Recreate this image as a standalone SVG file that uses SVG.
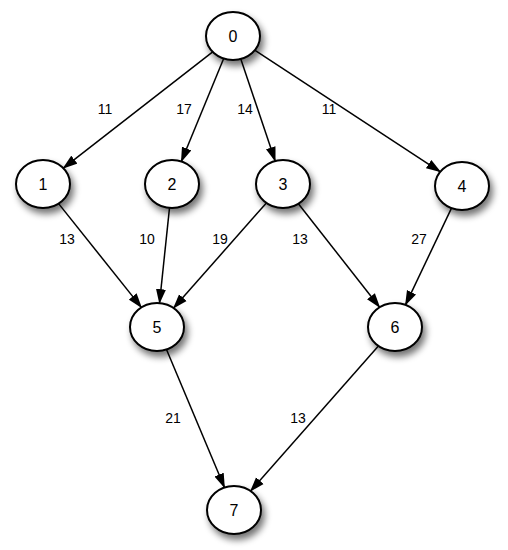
<svg xmlns="http://www.w3.org/2000/svg" width="508" height="550" viewBox="0 0 508 550">
<style>
.node ellipse{fill:#fff;stroke:#000;stroke-width:2;filter:url(#sh)}
.node text{font-family:"Liberation Sans",Arial,sans-serif;font-size:16px;text-anchor:middle;dominant-baseline:central;fill:#000}
.edges line{stroke:#000;stroke-width:1.5;marker-end:url(#arr)}
.lbl{font-family:"Liberation Sans",Arial,sans-serif;font-size:14px;text-anchor:middle;dominant-baseline:central;fill:#000}
</style>
<defs>
<filter id="sh" x="-40%" y="-40%" width="190%" height="200%">
<feGaussianBlur in="SourceAlpha" stdDeviation="3.5"/>
<feOffset dx="3" dy="5" result="b"/>
<feComponentTransfer><feFuncA type="linear" slope="0.55"/></feComponentTransfer>
<feMerge><feMergeNode/><feMergeNode in="SourceGraphic"/></feMerge>
</filter>
<marker id="arr" markerUnits="userSpaceOnUse" markerWidth="15" markerHeight="11" refX="14" refY="5" orient="auto" viewBox="0 0 15 10">
<path d="M0,0 L15,5 L0,10 Z" fill="#000"/>
</marker>
</defs>
<g class="edges">
<line x1="212.7" y1="51.8" x2="63.3" y2="168.2"/>
<line x1="223.7" y1="58.5" x2="181.3" y2="161.5"/>
<line x1="240.8" y1="59" x2="275.2" y2="161"/>
<line x1="254.7" y1="50.2" x2="440.3" y2="171.8"/>
<line x1="58.6" y1="203.6" x2="141.4" y2="307.4"/>
<line x1="169.5" y1="207.9" x2="159.5" y2="303.1"/>
<line x1="266.4" y1="202.9" x2="173.6" y2="308.1"/>
<line x1="298.4" y1="203.7" x2="379.6" y2="307.3"/>
<line x1="451.5" y1="208.1" x2="405.5" y2="304.9"/>
<line x1="166.5" y1="349.5" x2="224.5" y2="487.5"/>
<line x1="378.4" y1="345.9" x2="250.6" y2="491.1"/>
</g>
<g class="labels">
<text class="lbl" x="105" y="109">11</text>
<text class="lbl" x="184" y="109">17</text>
<text class="lbl" x="245" y="109">14</text>
<text class="lbl" x="329" y="109">11</text>
<text class="lbl" x="67" y="239">13</text>
<text class="lbl" x="147" y="239">10</text>
<text class="lbl" x="220" y="239">19</text>
<text class="lbl" x="300" y="239">13</text>
<text class="lbl" x="419" y="239">27</text>
<text class="lbl" x="173" y="418">21</text>
<text class="lbl" x="298" y="418">13</text>
</g>
<g id="n0" class="node"><ellipse cx="233" cy="36" rx="27" ry="24"/><text x="233" y="36">0</text></g>
<g id="n1" class="node"><ellipse cx="43" cy="184" rx="27" ry="24"/><text x="43" y="184">1</text></g>
<g id="n2" class="node"><ellipse cx="172" cy="184" rx="27" ry="24"/><text x="172" y="184">2</text></g>
<g id="n3" class="node"><ellipse cx="283" cy="184" rx="27" ry="24"/><text x="283" y="184">3</text></g>
<g id="n4" class="node"><ellipse cx="462" cy="186" rx="27" ry="24"/><text x="462" y="186">4</text></g>
<g id="n5" class="node"><ellipse cx="157" cy="327" rx="27" ry="24"/><text x="157" y="327">5</text></g>
<g id="n6" class="node"><ellipse cx="395" cy="327" rx="27" ry="24"/><text x="395" y="327">6</text></g>
<g id="n7" class="node"><ellipse cx="234" cy="510" rx="27" ry="24"/><text x="234" y="510">7</text></g>
</svg>
